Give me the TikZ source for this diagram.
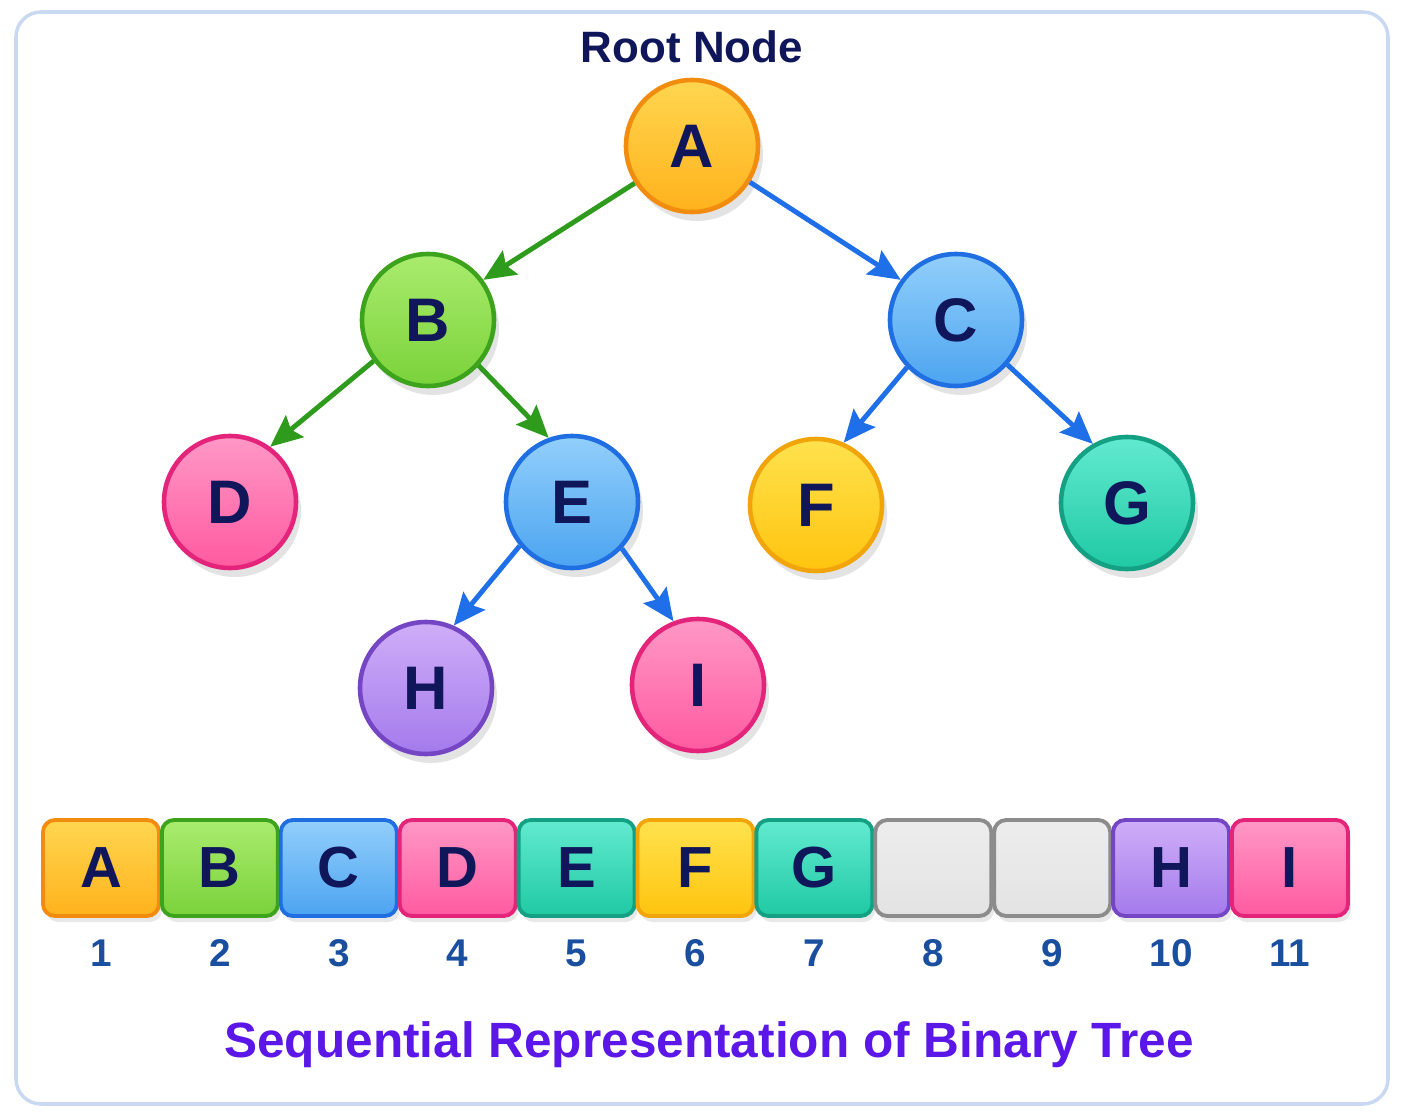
\documentclass[tikz,border=0pt]{standalone}
\usepackage{fontspec}
\setmainfont{Liberation Sans}
\usetikzlibrary{arrows.meta,shadows}
% colours: T = top, B = bottom, D = border
\definecolor{navy}{HTML}{10165A}
\definecolor{orangeT}{HTML}{FFD650}\definecolor{orangeB}{HTML}{FFB21C}\definecolor{orangeD}{HTML}{F28C0F}
\definecolor{greenT}{HTML}{AAEC6E}\definecolor{greenB}{HTML}{7AD23A}\definecolor{greenD}{HTML}{3DA31C}
\definecolor{blueT}{HTML}{92CFFB}\definecolor{blueB}{HTML}{4CA4F0}\definecolor{blueD}{HTML}{1F6FE3}
\definecolor{pinkT}{HTML}{FF98C6}\definecolor{pinkB}{HTML}{FF5AA0}\definecolor{pinkD}{HTML}{E3247A}
\definecolor{tealT}{HTML}{62EAD0}\definecolor{tealB}{HTML}{1FC9A3}\definecolor{tealD}{HTML}{14A083}
\definecolor{yellowT}{HTML}{FFE24E}\definecolor{yellowB}{HTML}{FFC40E}\definecolor{yellowD}{HTML}{F2A50A}
\definecolor{purpleT}{HTML}{D0AEF8}\definecolor{purpleB}{HTML}{A47AEC}\definecolor{purpleD}{HTML}{7446C4}
\definecolor{greyT}{HTML}{EDEDED}\definecolor{greyB}{HTML}{E3E3E3}\definecolor{greyD}{HTML}{8C8C8C}
\definecolor{edgeGreen}{HTML}{2E9B1C}
\definecolor{edgeBlue}{HTML}{1F6FE8}
\definecolor{idxBlue}{HTML}{1A4E9E}
\definecolor{titleViolet}{HTML}{5A17E8}
\definecolor{frameBlue}{HTML}{CAD9F2}

\begin{document}
\begin{tikzpicture}[x=0.1mm,y=-0.1mm,>={Stealth[length=3.2mm,width=2.8mm,inset=0.5mm]},
  tnode/.style={circle,minimum size=13.2mm,inner sep=0pt,line width=1.3pt,
    draw=#1D,top color=#1T,bottom color=#1B,text=navy,
    font=\fontsize{17.5}{20}\selectfont\bfseries,
    drop shadow={shadow xshift=0.5mm,shadow yshift=-0.9mm,opacity=0.22}},
  cell/.style={rectangle,rounded corners=1.2mm,minimum width=11.6mm,minimum height=9.6mm,
    inner sep=0pt,line width=1.1pt,draw=#1D,top color=#1T,bottom color=#1B,text=navy,
    font=\fontsize{16.5}{19}\selectfont\bfseries,
    drop shadow={shadow xshift=0.3mm,shadow yshift=-0.6mm,opacity=0.18}},
  idx/.style={text=idxBlue,font=\fontsize{11}{13}\selectfont\bfseries},
  linkG/.style={->,line width=1.4pt,draw=edgeGreen,fill=edgeGreen},
  linkB/.style={->,line width=1.4pt,draw=edgeBlue,fill=edgeBlue}]
\useasboundingbox (0,0) rectangle (1406,1119);
% ---------- frame ----------
\draw[frameBlue,line width=1pt,rounded corners=2.5mm] (16,12) rectangle (1388,1104);
% ---------- tree ----------
\node[text=navy,font=\fontsize{12.5}{15}\selectfont\bfseries] (rootlbl) at (692,47) {Root Node};
\node[tnode=orange] (A) at (692,146) {A};
\node[tnode=green]  (B) at (428,320) {B};
\node[tnode=blue]   (C) at (956,320) {C};
\node[tnode=pink]   (D) at (230,502) {D};
\node[tnode=blue]   (E) at (572,502) {E};
\node[tnode=yellow] (F) at (816,505) {F};
\node[tnode=teal]   (G) at (1127,503) {G};
\node[tnode=purple] (H) at (426,688) {H};
\node[tnode=pink]   (I) at (698,685) {I};
% links (border angles)
\draw[linkG] (A.213) -- (B.36);
\draw[linkB] (A.328) -- (C.144);
\draw[linkG] (B.217) -- (D.54);
\draw[linkG] (B.318) -- (E.110);
\draw[linkB] (C.224) -- (F.66);
\draw[linkB] (C.319) -- (G.120);
\draw[linkB] (E.220) -- (H.66);
\draw[linkB] (E.317) -- (I.111);
% ---------- array ----------
\foreach \lbl/\col [count=\i] in {A/orange,B/green,C/blue,D/pink,E/teal,F/yellow,G/teal,
                                  {}/grey,{}/grey,H/purple,I/pink}{
  \node[cell=\col] (cell\i) at ({101+118.9*(\i-1)},868) {\lbl};
  \node[idx] (idx\i) at ({101+118.9*(\i-1)},953) {\i};
}
\node[text=titleViolet,font=\fontsize{14.1}{17}\selectfont\bfseries] (title) at (709,1045)
  {Sequential Representation of Binary Tree};
\end{tikzpicture}
\end{document}
